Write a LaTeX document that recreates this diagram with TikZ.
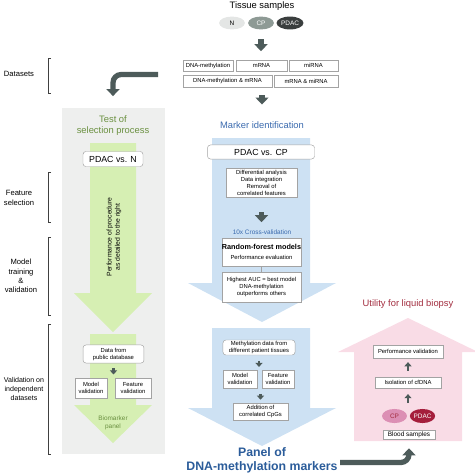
\documentclass[tikz,border=0pt]{standalone}
\usepackage{fontspec}
\setmainfont{Liberation Sans}
\usepackage{tikz}
\usetikzlibrary{shapes.geometric,arrows.meta,calc}
\definecolor{slate}{HTML}{4D5B5A}
\definecolor{boxgray}{HTML}{A3A3A3}
\definecolor{panelgray}{HTML}{EEEFEE}
\definecolor{arrowgreen}{HTML}{D6EFB3}
\definecolor{titlegreen}{HTML}{6A9040}
\definecolor{arrowblue}{HTML}{CDE1F3}
\definecolor{titleblue}{HTML}{3A6AAE}
\definecolor{markerblue}{HTML}{2B5C9A}
\definecolor{housepink}{HTML}{F9DCE6}
\definecolor{titlered}{HTML}{A22D3F}
\definecolor{sampleN}{HTML}{E4E6E5}
\definecolor{sampleCP}{HTML}{8E9A95}
\definecolor{samplePDAC}{HTML}{3A3E3E}
\definecolor{bloodCP}{HTML}{DC8FB4}
\definecolor{bloodPDAC}{HTML}{A51E3C}
\tikzset{
txtbox/.style={draw=boxgray,fill=white,align=center,inner sep=0pt,line width=0.4pt,
  font=\fontsize{5}{6}\selectfont},
roundbox/.style={txtbox,rounded corners=2.5pt},
sample/.style={ellipse,inner sep=0pt,minimum width=22pt,minimum height=11pt,
  font=\fontsize{5.5}{6}\selectfont},
bigarrow/.style={draw=slate,line width=4.5pt,-{Triangle[length=6pt,width=11pt]}},
tinyarrow/.style={draw=slate,line width=2.4pt,-{Triangle[length=3.5pt,width=6pt]}},
sidelabel/.style={align=center,font=\fontsize{6.5}{8}\selectfont},
bracket/.style={draw=black!75,line width=0.5pt},
}
\tikzstyle{title} = [align=center, font=\fontsize{8}{9.5}\selectfont]

\begin{document}
\begin{tikzpicture}[x=0.03cm,y=-0.03cm]
\useasboundingbox (0,0) rectangle (474,474);

\foreach \ya/\yb in {58/93,172/222,237/315,324/454}
  \draw[bracket] (51,\ya) -- (48,\ya) -- (48,\yb) -- (51,\yb);
\node[sidelabel] (lbdata) at (19,74) {Datasets};
\node[sidelabel] (lbfeat) at (19,198) {Feature\\selection};
\node[sidelabel] (lbmodel) at (21,276) {Model\\training\\\&\\validation};
\node[sidelabel,font=\fontsize{6}{7.6}\selectfont] (lbvalid) at (24,389)
  {Validation on\\independent\\datasets};

\node[title] (tissue) at (262,6) {Tissue samples};
\node[sample,fill=sampleN] (sN) at (232,23) {N};
\node[sample,fill=sampleCP,text=white] (sCP) at (261,23) {CP};
\node[sample,fill=samplePDAC,text=white,minimum width=23pt] (sPDAC) at (290,23) {PDAC};
\draw[bigarrow] ([yshift=-8pt]sCP.south) -- ([yshift=-18.4pt]sCP.south);

\node[txtbox,minimum width=42.7pt,minimum height=9.4pt] (dnameth) at (208,65.5) {DNA-methylation};
\node[txtbox,minimum width=43.5pt,minimum height=9.4pt] (mrna) at (261.5,65.5) {mRNA};
\node[txtbox,minimum width=41.8pt,minimum height=9.4pt] (mirna) at (313.5,65.5) {miRNA};
\node[txtbox,minimum width=76pt,minimum height=10.2pt] (dnamrna) at (227.5,81) {DNA-methylation \& mRNA};
\node[txtbox,minimum width=54.6pt,minimum height=10.2pt] (mrnamirna) at (306,81) {mRNA \& miRNA};
\coordinate (dsout) at (262,95);
\coordinate (lbend) at (158,74.5);

% left column
\fill[panelgray] (62,108) rectangle (165,454);
\fill[arrowgreen] (90,143) -- (136,143) -- (136,293) -- (152,293) -- (113,332)
  -- (74,293) -- (90,293) -- cycle;
\fill[arrowgreen] (90,334) -- (136,334) -- (136,405) -- (152,405) -- (113,443)
  -- (74,405) -- (90,405) -- cycle;
\node[title,text=titlegreen] (testtitle) at (113,126) {Test of\\selection process};
\draw[bigarrow,rounded corners=7pt] (lbend) -| ([yshift=13.5pt]testtitle.north);
\node[roundbox,minimum width=51.2pt,minimum height=12.8pt,font=\fontsize{7.5}{8}\selectfont]
  (pdacN) at (113,159) {PDAC vs. N};
\node[rotate=90,align=center,font=\fontsize{5.8}{7.2}\selectfont] (procedure) at (114,237)
  {Performance of procedure\\as detailed to the right};
\node[roundbox,minimum width=52pt,minimum height=15.4pt] (datapub) at (113.5,354)
  {Data from\\public database};
\draw[tinyarrow] ([yshift=-4.2pt]datapub.south) -- ([yshift=-9.6pt]datapub.south);
\node[txtbox,minimum width=27.3pt,minimum height=17pt] (modvalA) at (91,388) {Model\\validation};
\node[txtbox,minimum width=30.7pt,minimum height=17pt] (featvalA) at (133,388) {Feature\\validation};
\node[align=center,text=titlegreen,font=\fontsize{5.5}{7}\selectfont] (biomarker) at (113,423)
  {Biomarker\\panel};

% middle column
\node[title,text=titleblue] (markid) at (262,125) {Marker identification};
\draw[bigarrow] (dsout) -- ([yshift=11pt]markid.north);
\fill[arrowblue] (212,138) -- (310,138) -- (310,283) -- (336,283) -- (262,322)
  -- (188,283) -- (212,283) -- cycle;
\fill[arrowblue] (212,328) -- (310,328) -- (310,408) -- (336,408) -- (262,446)
  -- (188,408) -- (212,408) -- cycle;
\node[roundbox,minimum width=91.3pt,minimum height=12pt,font=\fontsize{7.5}{8}\selectfont]
  (pdacCP) at (261,152) {PDAC vs. CP};
\node[txtbox,minimum width=60.6pt,minimum height=24.8pt] (analysis) at (261.5,182.5)
  {Differential analysis\\Data integration\\Removal of\\correlated features};
\draw[bigarrow] ([yshift=-12.8pt]analysis.south) -- ([yshift=-21.3pt]analysis.south);
\node[text=titleblue,font=\fontsize{5.5}{6}\selectfont] (crossval) at (262,232) {10x Cross-validation};
\node[txtbox,minimum width=67.4pt,minimum height=24pt] (rforest) at (261.5,252)
  {{\fontsize{6.2}{7}\selectfont\bfseries Random-forest models}\\[2.5pt]Performance evaluation};
\node[txtbox,minimum width=67.4pt,minimum height=25.6pt] (bestauc) at (261.5,287)
  {Highest AUC = best model\\DNA-methylation\\outperforms others};
\draw[boxgray,line width=0.4pt] (rforest.south) -- (bestauc.north);
\node[roundbox,minimum width=61.5pt,minimum height=12.8pt] (methyl) at (259,347.5)
  {Methylation data from\\different patient tissues};
\draw[tinyarrow] ([yshift=-4.8pt]methyl.south) -- ([yshift=-10pt]methyl.south);
\node[txtbox,minimum width=29pt,minimum height=15.4pt] (modvalB) at (240,379) {Model\\validation};
\node[txtbox,minimum width=27.3pt,minimum height=15.4pt] (featvalB) at (278,379) {Feature\\validation};
\node[txtbox,minimum width=47pt,minimum height=14.5pt] (addition) at (260.5,411.5)
  {Addition of\\correlated CpGs};
\draw[tinyarrow] ([yshift=7.7pt]addition.north) -- ([yshift=2.6pt]addition.north);
\node[align=center,text=markerblue,font=\fontsize{10.5}{12}\bfseries] (panel) at (262,460)
  {Panel of\\DNA-methylation markers};
\coordinate (rbend) at (340,462.5);

% right column
\node[title,text=titlered] (utility) at (408,304) {Utility for liquid biopsy};
\fill[housepink] (354,441) -- (354,352) -- (338,352) -- (408,318) -- (478,352)
  -- (462,352) -- (462,441) -- cycle;
\node[txtbox,minimum width=59.8pt,minimum height=11pt] (perfval) at (408,351.5) {Performance validation};
\node[txtbox,minimum width=56.3pt,minimum height=9.4pt] (isolation) at (408,382.5) {Isolation of cfDNA};
\draw[tinyarrow] ([yshift=5pt]isolation.north) -- ([yshift=-3.4pt]perfval.south);
\draw[tinyarrow] ([yshift=-12.8pt]isolation.south) -- ([yshift=-5pt]isolation.south);
\node[sample,fill=bloodCP,text=titlered,minimum width=21.3pt,minimum height=12pt] (bCP) at (394.5,416) {CP};
\node[sample,fill=bloodPDAC,text=white,minimum width=21.3pt,minimum height=12pt] (bPDAC) at (422.5,416) {PDAC};
\node[txtbox,minimum width=44.4pt,minimum height=7.7pt,font=\fontsize{5.5}{6}\selectfont]
  (blood) at (409,434.5) {Blood samples};
\draw[bigarrow,rounded corners=7pt] (rbend) -| ([yshift=-7.7pt]blood.south);
\end{tikzpicture}
\end{document}
